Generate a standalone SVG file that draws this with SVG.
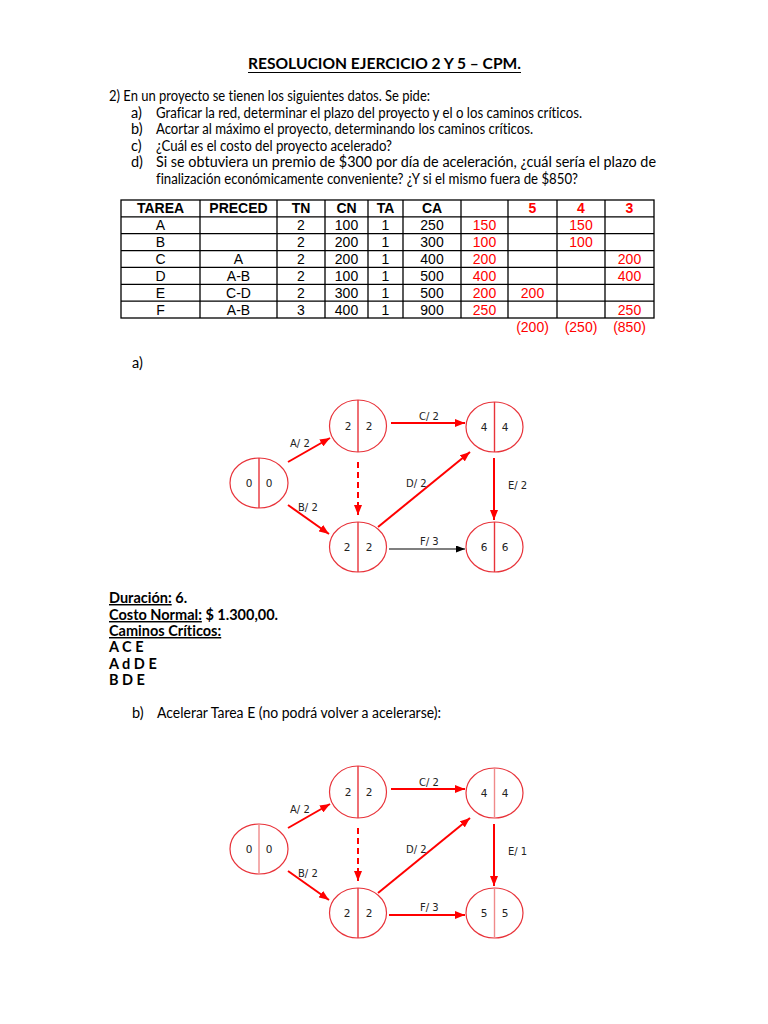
<svg xmlns="http://www.w3.org/2000/svg" width="768" height="1024" viewBox="0 0 768 1024">
<defs>
<style>
.doc{font-family:Lato,"Liberation Sans",sans-serif;font-size:14.5px;fill:#000;font-variant-ligatures:none}
.bold{font-weight:bold}
.ul{text-decoration:underline}
.tb{font-family:"Liberation Sans",Arial,sans-serif;font-size:14px;fill:#000;text-anchor:middle}
.tbh{font-weight:bold}
.red{fill:#ff0000}
.grid{stroke:#000;stroke-width:1.3;fill:none}
.node ellipse{fill:#fff;stroke:#e8333a;stroke-width:1.2}
.node line{stroke:#e8333a;stroke-width:1.4}
.node line.lt{stroke:#f08a8a}
.num{font-family:"DejaVu Sans",Verdana,sans-serif;font-size:10.5px;fill:#222;text-anchor:middle}
.lbl{font-family:"DejaVu Sans",Verdana,sans-serif;font-size:10px;fill:#222}
.arr{stroke:#ff0000;stroke-width:2;fill:none;marker-end:url(#ah)}
.arrk{stroke:#000;stroke-width:1.2;fill:none;marker-end:url(#ahk)}
.dash{stroke-dasharray:6 4}
</style>
<marker id="ah" markerUnits="userSpaceOnUse" markerWidth="10" markerHeight="8" refX="10" refY="4" orient="auto"><path d="M0,0 L10,4 L0,8 z" fill="#ff0000"/></marker>
<marker id="ahk" markerUnits="userSpaceOnUse" markerWidth="9" markerHeight="7" refX="9" refY="3.5" orient="auto"><path d="M0,0 L9,3.5 L0,7 z" fill="#000"/></marker>
</defs>
<rect width="768" height="1024" fill="#fff"/>

<!-- Title -->
<text class="doc bold" x="248" y="69" font-size="16.5" textLength="273" lengthAdjust="spacingAndGlyphs">RESOLUCION EJERCICIO 2 Y 5 – CPM.</text>
<line x1="248" y1="72.5" x2="521" y2="72.5" stroke="#000" stroke-width="1.2"/>

<!-- Statement -->
<text class="doc" x="109" y="101" textLength="321" lengthAdjust="spacingAndGlyphs">2) En un proyecto se tienen los siguientes datos. Se pide:</text>
<text class="doc" x="131" y="118">a)</text>
<text class="doc" x="156" y="118" textLength="426" lengthAdjust="spacingAndGlyphs">Graficar la red, determinar el plazo del proyecto y el o los caminos críticos.</text>
<text class="doc" x="131" y="134">b)</text>
<text class="doc" x="156" y="134" textLength="377" lengthAdjust="spacingAndGlyphs">Acortar al máximo el proyecto, determinando los caminos críticos.</text>
<text class="doc" x="131" y="151">c)</text>
<text class="doc" x="156" y="151" textLength="236" lengthAdjust="spacingAndGlyphs">¿Cuál es el costo del proyecto acelerado?</text>
<text class="doc" x="131" y="167">d)</text>
<text class="doc" x="156" y="167" textLength="500" lengthAdjust="spacingAndGlyphs">Si se obtuviera un premio de $300 por día de aceleración, ¿cuál sería el plazo de</text>
<text class="doc" x="156" y="184" textLength="422" lengthAdjust="spacingAndGlyphs">finalización económicamente conveniente? ¿Y si el mismo fuera de $850?</text>

<!-- Table -->
<g id="table">
<rect class="grid" x="121" y="200" width="533" height="118"/>
<g class="grid">
<line x1="121" y1="216.9" x2="654" y2="216.9"/>
<line x1="121" y1="233.7" x2="654" y2="233.7"/>
<line x1="121" y1="250.6" x2="654" y2="250.6"/>
<line x1="121" y1="267.4" x2="654" y2="267.4"/>
<line x1="121" y1="284.3" x2="654" y2="284.3"/>
<line x1="121" y1="301.1" x2="654" y2="301.1"/>
<line x1="200" y1="200" x2="200" y2="318"/>
<line x1="277" y1="200" x2="277" y2="318"/>
<line x1="325" y1="200" x2="325" y2="318"/>
<line x1="368" y1="200" x2="368" y2="318"/>
<line x1="403" y1="200" x2="403" y2="318"/>
<line x1="461" y1="200" x2="461" y2="318"/>
<line x1="508" y1="200" x2="508" y2="318"/>
<line x1="557" y1="200" x2="557" y2="318"/>
<line x1="605" y1="200" x2="605" y2="318"/>
</g>
<g class="tb tbh">
<text x="160.5" y="213">TAREA</text>
<text x="238.5" y="213">PRECED</text>
<text x="301" y="213">TN</text>
<text x="346.5" y="213">CN</text>
<text x="385.5" y="213">TA</text>
<text x="432" y="213">CA</text>
<text class="red" x="532.5" y="213">5</text>
<text class="red" x="581" y="213">4</text>
<text class="red" x="629.5" y="213">3</text>
</g>
<g class="tb">
<text x="160.5" y="230">A</text><text x="301" y="230">2</text><text x="346.5" y="230">100</text><text x="385.5" y="230">1</text><text x="432" y="230">250</text>
<text x="160.5" y="247">B</text><text x="301" y="247">2</text><text x="346.5" y="247">200</text><text x="385.5" y="247">1</text><text x="432" y="247">300</text>
<text x="160.5" y="264">C</text><text x="238.5" y="264">A</text><text x="301" y="264">2</text><text x="346.5" y="264">200</text><text x="385.5" y="264">1</text><text x="432" y="264">400</text>
<text x="160.5" y="281">D</text><text x="238.5" y="281">A-B</text><text x="301" y="281">2</text><text x="346.5" y="281">100</text><text x="385.5" y="281">1</text><text x="432" y="281">500</text>
<text x="160.5" y="297.5">E</text><text x="238.5" y="297.5">C-D</text><text x="301" y="297.5">2</text><text x="346.5" y="297.5">300</text><text x="385.5" y="297.5">1</text><text x="432" y="297.5">500</text>
<text x="160.5" y="314.5">F</text><text x="238.5" y="314.5">A-B</text><text x="301" y="314.5">3</text><text x="346.5" y="314.5">400</text><text x="385.5" y="314.5">1</text><text x="432" y="314.5">900</text>
</g>
<g class="tb red">
<text x="484.5" y="230">150</text><text x="581" y="230">150</text>
<text x="484.5" y="247">100</text><text x="581" y="247">100</text>
<text x="484.5" y="264">200</text><text x="629.5" y="264">200</text>
<text x="484.5" y="281">400</text><text x="629.5" y="281">400</text>
<text x="484.5" y="297.5">200</text><text x="532.5" y="297.5">200</text>
<text x="484.5" y="314.5">250</text><text x="629.5" y="314.5">250</text>
<text x="532.5" y="332">(200)</text><text x="581" y="332">(250)</text><text x="629.5" y="332">(850)</text>
</g>
</g>

<text class="doc" x="132" y="368">a)</text>

<!-- Diagram a -->
<g id="connectors-a">
<line class="arr" x1="288" y1="462" x2="330" y2="438"/>
<line class="arr" x1="288" y1="505" x2="329" y2="534"/>
<line class="arr dash" x1="358" y1="462" x2="358" y2="515"/>
<line class="arr" x1="391" y1="423" x2="465" y2="423"/>
<line class="arr" x1="378" y1="527" x2="470" y2="452"/>
<line class="arr" x1="494" y1="458" x2="494" y2="520"/>
<line class="arrk" x1="389" y1="549" x2="465" y2="549"/>
<text class="lbl" x="290" y="447">A/ 2</text>
<text class="lbl" x="298" y="511">B/ 2</text>
<text class="lbl" x="419" y="420">C/ 2</text>
<text class="lbl" x="406" y="487">D/ 2</text>
<text class="lbl" x="508" y="489">E/ 2</text>
<text class="lbl" x="420" y="545">F/ 3</text>
</g>
<g id="a-n0" class="node"><ellipse cx="259" cy="483" rx="29" ry="25"/><line x1="259" y1="458" x2="259" y2="508"/><text class="num" x="249" y="487">0</text><text class="num" x="269" y="487">0</text></g>
<g id="a-n1" class="node"><ellipse cx="358" cy="426" rx="28.5" ry="26"/><line x1="358" y1="400" x2="358" y2="452"/><text class="num" x="348" y="430">2</text><text class="num" x="369" y="430">2</text></g>
<g id="a-n2" class="node"><ellipse cx="358" cy="547" rx="28.5" ry="25"/><line x1="358" y1="522" x2="358" y2="572"/><text class="num" x="347" y="551">2</text><text class="num" x="369" y="551">2</text></g>
<g id="a-n3" class="node"><ellipse cx="494.5" cy="427" rx="28.5" ry="25"/><line x1="494.5" y1="402" x2="494.5" y2="452"/><text class="num" x="484" y="431">4</text><text class="num" x="505" y="431">4</text></g>
<g id="a-n4" class="node"><ellipse cx="494.5" cy="547" rx="28.5" ry="25"/><line x1="494.5" y1="522" x2="494.5" y2="572"/><text class="num" x="484" y="551">6</text><text class="num" x="505" y="551">6</text></g>

<!-- Results -->
<text class="doc bold" x="109" y="603"><tspan class="ul">Duración:</tspan> 6.</text>
<text class="doc bold" x="109" y="620"><tspan class="ul">Costo Normal:</tspan> $ 1.300,00.</text>
<text class="doc bold ul" x="109" y="636">Caminos Críticos:</text>
<text class="doc bold" x="109" y="652">A C E</text>
<text class="doc bold" x="109" y="669">A d D E</text>
<text class="doc bold" x="109" y="685">B D E</text>

<text class="doc" x="132" y="718">b)</text>
<text class="doc" x="157" y="718" textLength="284" lengthAdjust="spacingAndGlyphs">Acelerar Tarea E (no podrá volver a acelerarse):</text>

<!-- Diagram b -->
<g id="connectors-b">
<line class="arr" x1="288" y1="828" x2="330" y2="804"/>
<line class="arr" x1="288" y1="871" x2="329" y2="900"/>
<line class="arr dash" x1="358" y1="828" x2="358" y2="881"/>
<line class="arr" x1="391" y1="789" x2="465" y2="789"/>
<line class="arr" x1="378" y1="893" x2="470" y2="818"/>
<line class="arr" x1="494" y1="824" x2="494" y2="886"/>
<line class="arr" x1="389" y1="915" x2="465" y2="915"/>
<text class="lbl" x="290" y="813">A/ 2</text>
<text class="lbl" x="298" y="877">B/ 2</text>
<text class="lbl" x="419" y="786">C/ 2</text>
<text class="lbl" x="406" y="853">D/ 2</text>
<text class="lbl" x="508" y="855">E/ 1</text>
<text class="lbl" x="420" y="911">F/ 3</text>
</g>
<g id="b-n0" class="node"><ellipse cx="259" cy="849" rx="29" ry="25"/><line class="lt" x1="259" y1="824" x2="259" y2="874"/><text class="num" x="249" y="853">0</text><text class="num" x="269" y="853">0</text></g>
<g id="b-n1" class="node"><ellipse cx="358" cy="792" rx="28.5" ry="26"/><line x1="358" y1="766" x2="358" y2="818"/><text class="num" x="348" y="796">2</text><text class="num" x="369" y="796">2</text></g>
<g id="b-n2" class="node"><ellipse cx="358" cy="913" rx="28.5" ry="25"/><line x1="358" y1="888" x2="358" y2="938"/><text class="num" x="347" y="917">2</text><text class="num" x="369" y="917">2</text></g>
<g id="b-n3" class="node"><ellipse cx="494.5" cy="793" rx="28.5" ry="25"/><line class="lt" x1="494.5" y1="768" x2="494.5" y2="818"/><text class="num" x="484" y="797">4</text><text class="num" x="505" y="797">4</text></g>
<g id="b-n4" class="node"><ellipse cx="494.5" cy="913" rx="28.5" ry="25"/><line class="lt" x1="494.5" y1="888" x2="494.5" y2="938"/><text class="num" x="484" y="917">5</text><text class="num" x="505" y="917">5</text></g>
</svg>
